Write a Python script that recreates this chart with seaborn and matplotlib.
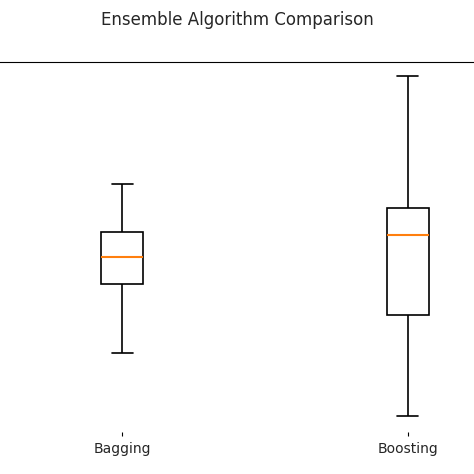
import pandas as pd
import matplotlib.pyplot as plt
import seaborn as sns

names = ['Bagging', 'Boosting']
bagging = [0.679, 0.748, 0.775, 0.800, 0.848]
boosting = [0.616, 0.717, 0.797, 0.824, 0.956]

df = pd.DataFrame({
    'model': ['Bagging'] * len(bagging) + ['Boosting'] * len(boosting),
    'score': bagging + boosting,
})

sns.set_style("white")
fig = plt.figure(figsize=(4.74, 4.74), dpi=100)
ax = fig.add_axes([0.0, 1 - 432 / 474, 1.0, 370 / 474])
sns.boxplot(x='model', y='score', data=df, order=names, width=0.147, whis=10,
            color='white', linecolor='black', linewidth=1.2,
            medianprops={'color': '#ff7f0e', 'linewidth': 1.5}, ax=ax)
ax.set_xlim(-0.427, 1.231)
ax.set_ylim(0.60, 0.97)
ax.set_xlabel('')
ax.set_ylabel('')
ax.set_yticks([])
for s in ['left', 'right', 'bottom']:
    ax.spines[s].set_visible(False)
ax.spines['top'].set_color('black')
ax.tick_params(axis='x', bottom=True, length=3, width=0.8, labelsize=10, color='black', pad=4)
fig.suptitle('Ensemble Algorithm Comparison', y=1 - 20 / 474, va='center', fontsize=12)
fig.savefig('out.png', dpi=100)
